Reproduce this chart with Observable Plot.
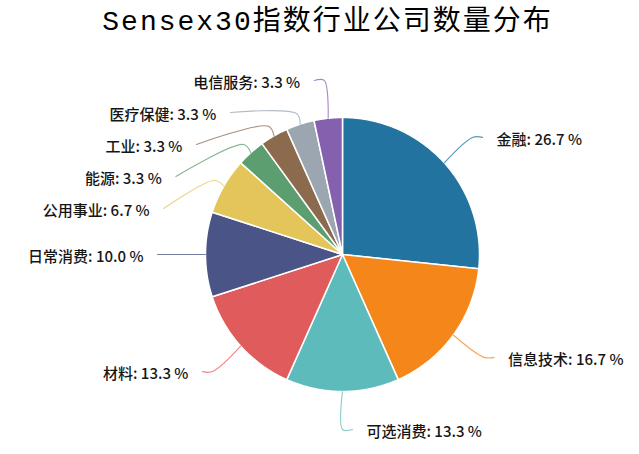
<!DOCTYPE html>
<html>
<head>
<meta charset="utf-8">
<script src="https://cdn.jsdelivr.net/npm/d3@7"></script>
<script src="https://cdn.jsdelivr.net/npm/@observablehq/plot@0.6"></script>
<style>
  html, body { margin: 0; padding: 0; background: #fff; }
  #title {
    width: 639px; height: 46px; line-height: 46px; text-align: center;
    font-family: "Liberation Mono", "Noto Sans CJK SC", monospace;
    font-size: 28px; letter-spacing: 2px; color: #000; padding-left: 16px; box-sizing: border-box;
  }
</style>
</head>
<body>
<div id="title">Sensex30指数行业公司数量分布</div>
<div id="chart"></div>
<script>
// Data
const sectors = ["金融", "信息技术", "可选消费", "材料", "日常消费", "公用事业", "能源", "工业", "医疗保健", "电信服务"];
const counts  = [8, 5, 4, 4, 3, 2, 1, 1, 1, 1];
const colors  = ["#22739f", "#f5861a", "#5dbcbb", "#e05c5c", "#4a5486", "#e4c55a", "#5d9e70", "#8c6a4e", "#9ba6b1", "#8460ae"];

// Layout constants (pixels)
const W = 639, H = 408;
const cx = 342, cy = 208;       // pie centre within the svg
const R = 137;                   // pie radius
const len1 = 38, len2 = 10, gap = 14, minSpacing = 32;

const total = d3.sum(counts);
const arcs = d3.pie().sort(null).startAngle(0).endAngle(2 * Math.PI)(counts);

const px = (a, r) => r * Math.sin(a);
const py = (a, r) => -r * Math.cos(a);

// Slice polygons
const slicePts = [];
arcs.forEach((a, i) => {
  const name = sectors[i];
  slicePts.push({name, x: 0, y: 0});
  const n = Math.max(2, Math.ceil((a.endAngle - a.startAngle) / (Math.PI / 180)));
  for (let k = 0; k <= n; k++) {
    const t = a.startAngle + (a.endAngle - a.startAngle) * k / n;
    slicePts.push({name, x: px(t, R), y: py(t, R)});
  }
});

// Labels
const labels = arcs.map((a, i) => {
  const mid = (a.startAngle + a.endAngle) / 2;
  const right = Math.sin(mid) > -1e-6;
  const pct = (counts[i] / total * 100).toFixed(1);
  return {
    name: sectors[i], mid, right,
    text: `${sectors[i]}: ${pct} %`,
    y0: py(mid, R + len1), x0: px(mid, R + len1)
  };
});
for (const side of [true, false]) {
  const list = labels.filter(d => d.right === side).sort((a, b) => a.y0 - b.y0);
  let prev = -Infinity;
  for (const d of list) {
    d.y = Math.max(d.y0, prev + minSpacing);
    prev = d.y;
    d.adjusted = Math.abs(d.y - d.y0) > 1;
    const dir = side ? 1 : -1;
    let xx = d.x0;
    if (d.adjusted && Math.abs(d.y) < R + len1) xx = dir * Math.sqrt((R + len1) ** 2 - d.y ** 2);
    d.x1 = xx;                       // elbow
    d.x2 = xx + dir * len2;          // end of label line
    d.tx = d.x2 + dir * gap;         // text anchor
  }
}

const linePts = [];
labels.forEach(d => {
  linePts.push({name: d.name, x: px(d.mid, R), y: py(d.mid, R)});
  if (d.adjusted) {
    linePts.push({name: d.name, x: px(d.mid, R + 11), y: py(d.mid, R + 11)});
  } else {
    linePts.push({name: d.name, x: d.x1, y: d.y});
  }
  linePts.push({name: d.name, x: d.x2, y: d.y});
});

const textStyle = {
  fontFamily: "'Noto Sans CJK SC', sans-serif", fontSize: 15, fontWeight: 500,
  fill: "#151515", dy: 3
};

const chart = Plot.plot({
  width: W, height: H,
  margin: 0,
  x: {domain: [-cx, W - cx], range: [0, W], axis: null},
  y: {domain: [-cy, H - cy], range: [0, H], axis: null},
  color: {domain: sectors, range: colors},
  style: {background: "white", overflow: "visible"},
  marks: [
    Plot.line(slicePts, {x: "x", y: "y", z: "name", fill: "name", stroke: "white", strokeWidth: 1.5, curve: "linear-closed"}),
    Plot.line(linePts, {x: "x", y: "y", z: "name", stroke: "name", strokeWidth: 1.1, strokeOpacity: 0.75, curve: "catmull-rom"}),
    Plot.text(labels.filter(d => d.right), {x: "tx", y: "y", text: "text", textAnchor: "start", ...textStyle}),
    Plot.text(labels.filter(d => !d.right), {x: "tx", y: "y", text: "text", textAnchor: "end", ...textStyle})
  ]
});
document.getElementById("chart").appendChild(chart);
</script>
</body>
</html>
